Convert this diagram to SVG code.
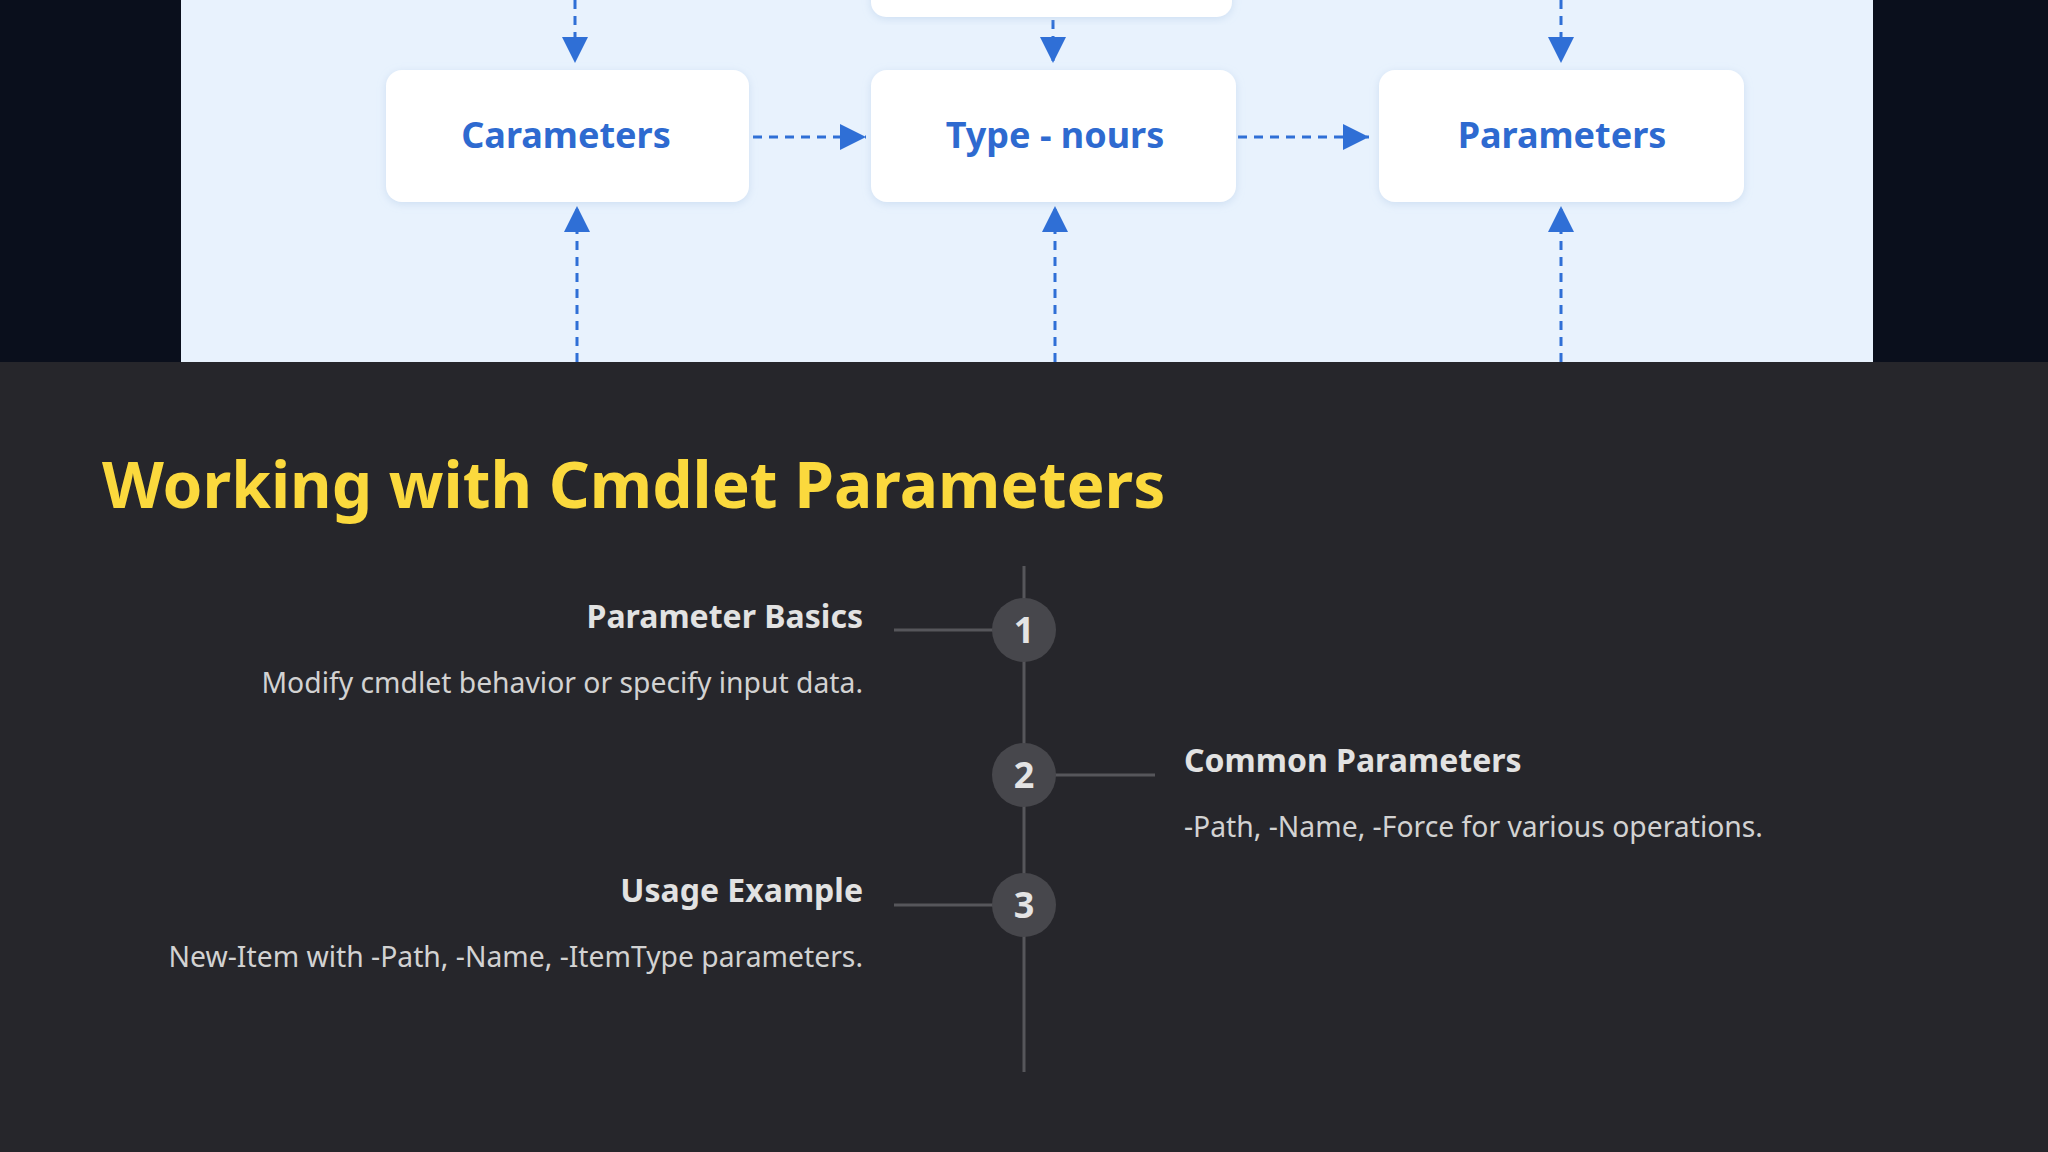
<svg xmlns="http://www.w3.org/2000/svg" width="2048" height="1152" viewBox="0 0 2048 1152">
  <defs>
    <style>
      .node rect { fill: #ffffff; }
      .node text { font-family: "Noto Sans", "Open Sans", sans-serif; font-weight: 700; font-size: 36px; fill: #2e6ad0; text-anchor: middle; }
      .dash { stroke: #2f6fd6; stroke-width: 3; fill: none; stroke-dasharray: 9 7; }
      .tl { stroke: #56565b; stroke-width: 3; fill: none; }
      .circ { fill: #47474c; }
      .num { font-family: "Noto Sans", "Open Sans", sans-serif; font-weight: 700; font-size: 36px; fill: #e4e4e4; text-anchor: middle; }
      .head { font-family: "Noto Sans", "Open Sans", sans-serif; font-weight: 700; font-size: 32px; fill: #e2e2e2; }
      .desc { font-family: "Noto Sans", "Open Sans", sans-serif; font-weight: 400; font-size: 28.3px; fill: #d2d2d2; }
      .title { font-family: "Noto Sans", "Open Sans", sans-serif; font-weight: 700; font-size: 64px; fill: #fbd93d; }
    </style>
    <marker id="ah" viewBox="0 0 26 26" refX="26" refY="13" markerWidth="26" markerHeight="26" markerUnits="userSpaceOnUse" orient="auto">
      <path d="M0,0 L26,13 L0,26 Z" fill="#2f6fd6"/>
    </marker>
    <filter id="sh" x="-10%" y="-10%" width="120%" height="130%">
      <feDropShadow dx="0" dy="2" stdDeviation="4" flood-color="#9bb8dc" flood-opacity="0.35"/>
    </filter>
  </defs>

  <!-- backgrounds -->
  <rect x="0" y="0" width="2048" height="1152" fill="#26262b"/>
  <rect x="0" y="0" width="2048" height="362" fill="#0a0f1c"/>
  <rect x="181" y="0" width="1692" height="362" fill="#e8f2fd"/>

  <!-- connectors -->
  <g id="connectors">
    <line class="dash" x1="575" y1="0" x2="575" y2="63" marker-end="url(#ah)"/>
    <line class="dash" x1="1053" y1="20" x2="1053" y2="63" marker-end="url(#ah)"/>
    <line class="dash" x1="1561" y1="0" x2="1561" y2="63" marker-end="url(#ah)"/>
    <line class="dash" x1="577" y1="362" x2="577" y2="206" marker-end="url(#ah)"/>
    <line class="dash" x1="1055" y1="362" x2="1055" y2="206" marker-end="url(#ah)"/>
    <line class="dash" x1="1561" y1="362" x2="1561" y2="206" marker-end="url(#ah)"/>
    <line class="dash" x1="753" y1="137" x2="866" y2="137" marker-end="url(#ah)"/>
    <line class="dash" x1="1238" y1="137" x2="1369" y2="137" marker-end="url(#ah)"/>
  </g>

  <g id="node-top" class="node">
    <rect x="871" y="-20" width="361" height="37" rx="15" filter="url(#sh)"/>
  </g>
  <g id="node-carameters" class="node">
    <rect x="386" y="70" width="363" height="132" rx="16" filter="url(#sh)"/>
    <text x="566" y="148">Carameters</text>
  </g>
  <g id="node-typenours" class="node">
    <rect x="871" y="70" width="365" height="132" rx="16" filter="url(#sh)"/>
    <text x="1055" y="148">Type - nours</text>
  </g>
  <g id="node-parameters" class="node">
    <rect x="1379" y="70" width="365" height="132" rx="16" filter="url(#sh)"/>
    <text x="1562" y="148">Parameters</text>
  </g>

  <!-- title -->
  <text class="title" x="102" y="508">Working with Cmdlet Parameters</text>

  <!-- timeline -->
  <g id="timeline-connectors">
    <line class="tl" x1="1024" y1="566" x2="1024" y2="1072"/>
    <line class="tl" x1="894" y1="630" x2="993" y2="630"/>
    <line class="tl" x1="1055" y1="775" x2="1155" y2="775"/>
    <line class="tl" x1="894" y1="905" x2="993" y2="905"/>
  </g>

  <g id="step-1">
    <circle class="circ" cx="1024" cy="630" r="32"/>
    <text class="num" x="1024" y="643">1</text>
    <text class="head" x="863" y="628" text-anchor="end">Parameter Basics</text>
    <text class="desc" x="863" y="693" text-anchor="end">Modify cmdlet behavior or specify input data.</text>
  </g>
  <g id="step-2">
    <circle class="circ" cx="1024" cy="775" r="32"/>
    <text class="num" x="1024" y="788">2</text>
    <text class="head" x="1184" y="772">Common Parameters</text>
    <text class="desc" x="1184" y="837">-Path, -Name, -Force for various operations.</text>
  </g>
  <g id="step-3">
    <circle class="circ" cx="1024" cy="905" r="32"/>
    <text class="num" x="1024" y="918">3</text>
    <text class="head" x="863" y="902" text-anchor="end">Usage Example</text>
    <text class="desc" x="863" y="967" text-anchor="end">New-Item with -Path, -Name, -ItemType parameters.</text>
  </g>
</svg>
